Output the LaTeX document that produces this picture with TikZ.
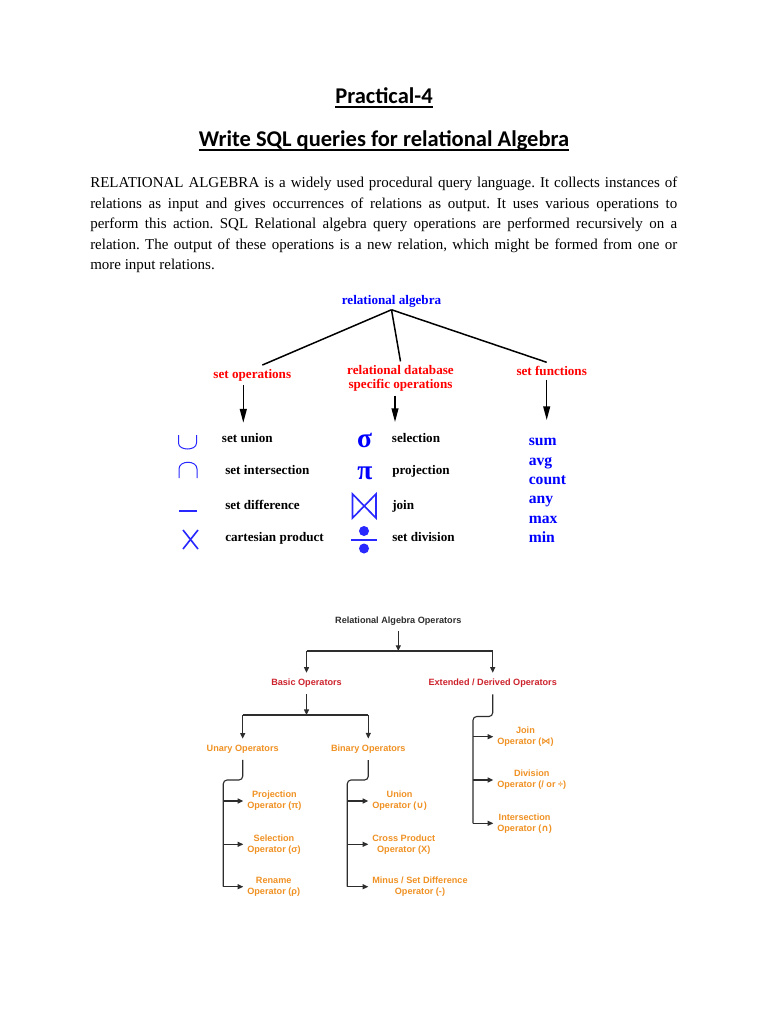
\documentclass[tikz,border=0pt]{standalone}
\usepackage{amsmath}
\usepackage{fontspec}
\setmainfont{Liberation Serif}
\newfontfamily\headfont{Carlito}
\newfontfamily\opfont{Liberation Sans}
\newfontfamily\symfont{DejaVu Sans}
\usepackage{tikz}
\usetikzlibrary{arrows.meta, positioning}
\definecolor{rablue}{RGB}{0,0,255}
\definecolor{rared}{RGB}{255,0,0}
\definecolor{symblue}{RGB}{40,40,255}
\definecolor{opdark}{RGB}{45,45,45}
\definecolor{opred}{RGB}{205,35,45}
\definecolor{oporange}{RGB}{240,145,35}
\tikzset{
  heading/.style={font=\headfont\fontsize{18}{22}\selectfont\bfseries,
    inner sep=0pt, anchor=base},
  ratop/.style={font=\fontsize{10.5}{12}\selectfont\bfseries,
    text=rablue, inner sep=2pt},
  racat/.style={font=\fontsize{10.5}{11.4}\selectfont\bfseries,
    text=rared, inner sep=3pt, align=center},
  raop/.style={font=\fontsize{10.5}{12}\selectfont\bfseries,
    anchor=base west, inner sep=0pt},
  rafun/.style={font=\fontsize{12.5}{14}\selectfont\bfseries,
    text=rablue, anchor=base west, inner sep=0pt},
  rasym/.style={font=\fontsize{22}{22}\selectfont\bfseries,
    text=rablue, inner sep=0pt},
  symstroke/.style={draw=symblue, line width=0.8pt},
  spoke/.style={line width=1.2pt},
  downarrow/.style={-{Triangle[length=11pt, width=5.5pt]}, line width=1.2pt},
  optop/.style={font=\opfont\fontsize{7.3}{8.6}\selectfont\bfseries,
    text=opdark, inner sep=5pt},
  opmid/.style={font=\opfont\fontsize{7.3}{8.6}\selectfont\bfseries,
    text=opred, inner sep=5pt},
  opsub/.style={font=\opfont\fontsize{7.3}{8.6}\selectfont\bfseries,
    text=oporange, inner sep=5pt},
  opleaf/.style={font=\opfont\fontsize{7.3}{8.6}\selectfont\bfseries,
    text=oporange, align=center, anchor=west, inner sep=3pt},
  tree/.style={line width=0.9pt, color=opdark},
  treearrow/.style={tree, -{Triangle[length=4.5pt, width=4pt]}}
}

\begin{document}
\begin{tikzpicture}[x=0.8pt, y=-0.8pt]
  \fill[white] (0,0) rectangle (768,1024);
  \useasboundingbox (0,0) rectangle (768,1024);

  % Title
  \node[heading] (prac) at (384,104) {Practical-4};
  \node[heading] (sqlq) at (384,147) {Write SQL queries for relational Algebra};
  \draw[line width=0.9pt] ([yshift=-2.4pt]prac.base west) -- ([yshift=-2.4pt]prac.base east);
  \draw[line width=0.9pt] ([yshift=-2.4pt]sqlq.base west) -- ([yshift=-2.4pt]sqlq.base east);

  \node[anchor=base west, inner sep=0pt, text width=469.6pt, align=justify,
    font=\fontsize{12}{16.3}\selectfont\frenchspacing] (intro) at (90,188)
    {RELATIONAL ALGEBRA is a widely used procedural query language. It collects instances of\linebreak
     relations as input and gives occurrences of relations as output. It uses various operations to\linebreak
     perform this action. SQL Relational algebra query operations are performed recursively on a\linebreak
     relation. The output of these operations is a new relation, which might be formed from one or\linebreak
     more input relations.};

  % Blocks
  \node[ratop] (ra) at (391.5,301) {relational algebra};
  \node[racat] (setops) at (252.3,375) {set operations};
  \node[racat] (rdbops) at (400.5,378.5) {relational database\\specific operations};
  \node[racat] (setfun) at (551.7,371) {set functions};

  \node[raop] (union) at (221.7,442.3) {set union};
  \node[raop] (inter) at (225,474.3) {set intersection};
  \node[raop] (diff) at (225,509) {set difference};
  \node[raop] (cart) at (225,541.7) {cartesian product};

  \node[raop] (select) at (391.7,442.3) {selection};
  \node[raop] (project) at (392,474.3) {projection};
  \node[raop] (join) at (392,509) {join};
  \node[raop] (divide) at (392,541.7) {set division};

  \node[rafun] (fsum) at (528.5,445.7) {sum};
  \node[rafun] (favg) at (528.5,465) {avg};
  \node[rafun] (fcount) at (528.5,484.3) {count};
  \node[rafun] (fany) at (528.5,503.5) {any};
  \node[rafun] (fmax) at (528.5,523.3) {max};
  \node[rafun] (fmin) at (528.5,542.5) {min};

  % Symbols
  \draw[symstroke] (178.5,435) -- (178.5,443) .. controls (178.5,451) and (196.5,451) .. (196.5,443) -- (196.5,435);
  \draw[symstroke] (179,478) -- (179,469) .. controls (179,460) and (197,460) .. (197,469) -- (197,478);
  \draw[symstroke, line width=1.7pt] (179,511) -- (197,511);
  \draw[symstroke, line width=1.3pt] (183,530) -- (198,549) (198,530) -- (183,549);
  \node[rasym] (sigma) at (364.5,440) {σ};
  \node[rasym] (pi) at (365,473) {π};
  \draw[symstroke, line width=1.3pt] (352.5,494) -- (352.5,518) -- (376,494) -- (376,518) -- cycle;
  \fill[symblue] (364,531) circle[radius=4pt] (364,548.5) circle[radius=4pt];
  \draw[symstroke, line width=1.7pt] (351,540) -- (377,540);

  % Flows
  \coordinate (opstip) at (243.3,422.7);
  \coordinate (rdbtip) at (395,422);
  \coordinate (funtip) at (546.7,420);
  \draw[spoke] (ra.south) -- ([xshift=8pt]setops.north);
  \draw[spoke] (ra.south) -- (rdbops.north);
  \draw[spoke] (ra.south) -- ([xshift=-4pt]setfun.north);
  \draw[downarrow] (setops.south -| opstip) -- (opstip);
  \draw[downarrow] (rdbops.south -| rdbtip) -- (rdbtip);
  \draw[downarrow] (setfun.south -| funtip) -- (funtip);

  % Operator tree
  \node[optop] (raops) at (398.3,620.7) {Relational Algebra Operators};
  \node[opmid] (basic) at (306.5,683.5) {Basic Operators};
  \node[opmid] (ext) at (492.7,683.5) {Extended / Derived Operators};
  \node[opsub] (unary) at (242.7,749.3) {Unary Operators};
  \node[opsub] (binary) at (368.3,749.3) {Binary Operators};

  \node[opleaf] (proj) at (243.3,801) {Projection\\Operator (π)};
  \node[opleaf] (sel) at (243.3,844.3) {Selection\\Operator (σ)};
  \node[opleaf] (ren) at (243.3,886.7) {Rename\\Operator (ρ)};
  \node[opleaf] (uni) at (368.3,801) {Union\\Operator ({\symfont ∪})};
  \node[opleaf] (cross) at (368.3,844.3) {Cross Product\\Operator (X)};
  \node[opleaf] (minus) at (368.3,886.7) {Minus / Set Difference\\Operator (-)};
  \node[opleaf] (joinop) at (493.3,736.7) {Join\\Operator ({\symfont ⋈})};
  \node[opleaf] (divop) at (493.3,780) {Division\\Operator (/ or ÷)};
  \node[opleaf] (intop) at (493.3,823.3) {Intersection\\Operator ({\symfont ∩})};

  \coordinate (split) at (398.3,651);
  \coordinate (bsplit) at (306.5,715);
  \coordinate (ubus) at (223.3,780);
  \coordinate (bbus) at (347.3,780);
  \coordinate (ebus) at (473,716.5);

  \draw[treearrow] (raops.south) -- (split);
  \draw[tree] (basic |- split) -- (ext |- split);
  \draw[treearrow] (basic |- split) -- (basic.north);
  \draw[treearrow] (ext |- split) -- (ext.north);

  \draw[treearrow] (basic.south) -- (bsplit);
  \draw[tree] (unary |- bsplit) -- (binary |- bsplit);
  \draw[treearrow] (unary |- bsplit) -- (unary.north);
  \draw[treearrow] (binary |- bsplit) -- (binary.north);

  \draw[tree, rounded corners=3pt] (unary.south) |- (ubus) -- (ubus |- ren.west);
  \draw[treearrow] (ubus |- proj.west) -- (proj.west);
  \draw[treearrow] (ubus |- sel.west) -- (sel.west);
  \draw[treearrow] (ubus |- ren.west) -- (ren.west);

  \draw[tree, rounded corners=3pt] (binary.south) |- (bbus) -- (bbus |- minus.west);
  \draw[treearrow] (bbus |- uni.west) -- (uni.west);
  \draw[treearrow] (bbus |- cross.west) -- (cross.west);
  \draw[treearrow] (bbus |- minus.west) -- (minus.west);

  \draw[tree, rounded corners=3pt] (ext.south) |- (ebus) -- (ebus |- intop.west);
  \draw[treearrow] (ebus |- joinop.west) -- (joinop.west);
  \draw[treearrow] (ebus |- divop.west) -- (divop.west);
  \draw[treearrow] (ebus |- intop.west) -- (intop.west);
\end{tikzpicture}
\end{document}
